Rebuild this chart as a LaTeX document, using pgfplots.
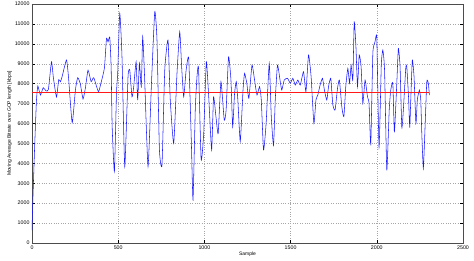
\documentclass[border=0pt]{standalone}
\usepackage{pgfplots}
\pgfplotsset{compat=1.18}
\usepackage{fontspec}
\setmainfont{Liberation Sans}
\pgfplotstableread{
s v
0 650
5 2160
16 5000
26 7180
34 7880
49 7430
65 7800
80 7650
95 7700
113 9100
124 8300
142 7330
155 8200
165 8100
176 8400
200 9190
212 8300
233 6040
252 7700
265 8300
280 8000
296 7230
310 7800
325 8680
343 8100
358 8300
385 7600
399 8000
420 8780
432 10270
441 10100
451 10330
459 8850
465 5840
478 3580
490 7530
497 8500
509 11530
522 9350
538 3830
557 8350
567 8680
580 7340
590 7850
604 9100
613 7180
623 9020
634 7850
642 10360
653 8350
673 3830
693 8020
712 11610
725 10190
739 4700
754 3920
770 8680
789 10190
802 7180
822 5000
841 8520
857 10610
868 8850
880 7340
894 8680
909 9270
924 5170
934 2160
947 6680
957 8350
966 8770
981 4200
996 5500
1011 9100
1025 7340
1042 4670
1053 7340
1067 6340
1080 5500
1096 8100
1115 6170
1126 6680
1140 9350
1154 8180
1164 5840
1175 7510
1185 8100
1194 7180
1208 5100
1224 7680
1233 8520
1246 8020
1258 7260
1276 8930
1291 8180
1305 7430
1320 7850
1330 7180
1343 4670
1358 6000
1376 9020
1388 6340
1401 4900
1411 7180
1424 8930
1440 8100
1449 7680
1463 8180
1482 8270
1498 8020
1513 8270
1527 7930
1542 8180
1556 7930
1575 8600
1589 7600
1604 9440
1619 8350
1635 6000
1647 7180
1658 7430
1671 7930
1685 8270
1696 7680
1710 7180
1720 7850
1733 8270
1745 6930
1758 6680
1772 7760
1783 8180
1797 6840
1809 6340
1820 7850
1832 8770
1842 8020
1851 8930
1861 8180
1869 11110
1879 9860
1888 7850
1898 9440
1909 8850
1919 7010
1932 8180
1946 7340
1955 7010
1965 4950
1977 9520
1990 10110
2000 10270
2013 4800
2026 8930
2035 9690
2045 8680
2058 3660
2072 6680
2081 7680
2093 8020
2102 5560
2116 8020
2125 9770
2135 8850
2145 5800
2154 6680
2168 8770
2174 8850
2184 7340
2191 5800
2197 7180
2206 9190
2216 8350
2227 6000
2235 7180
2247 7680
2255 7180
2261 5500
2270 3750
2280 5840
2290 8100
2299 8020
2305 7430
}\bitrate
\pgfplotstableread{
s v
0 7550
2305 7550
}\meanline
\begin{document}
\begin{tikzpicture}
\useasboundingbox (-32bp,-18bp) rectangle (442bp,243bp);
\begin{axis}[
  scale only axis,
  width=431bp, height=239bp,
  xmin=0, xmax=2500, ymin=0, ymax=12000,
  xtick={0,500,...,2500},
  ytick={0,1000,...,12000},
  tick align=inside,
  major tick length=3bp,
  tick style={black, line width=0.4pt},
  grid=major,
  grid style={dotted, gray!70, line width=0.4pt},
  axis line style={black!70, line width=0.6pt},
  tick label style={font=\fontsize{5.3}{6}\selectfont},
  /pgf/number format/assume math mode=true,
  /pgf/number format/1000 sep={},
  scaled ticks=false,
  xlabel={Sample},
  ylabel={Moving Average Bitrate over GOP length [kbps]},
  label style={font=\fontsize{5}{6}\selectfont},
  xlabel style={yshift=4bp},
  ylabel style={yshift=-4bp},
  xticklabel style={yshift=1bp},
  yticklabel style={xshift=1bp},
]
\addplot[blue!90!white, line width=0.55pt, smooth, tension=0.3] table[x=s, y=v] {\bitrate};
\addplot[red!90!white, line width=0.6pt] table[x=s, y=v] {\meanline};
\end{axis}
\end{tikzpicture}
\end{document}
